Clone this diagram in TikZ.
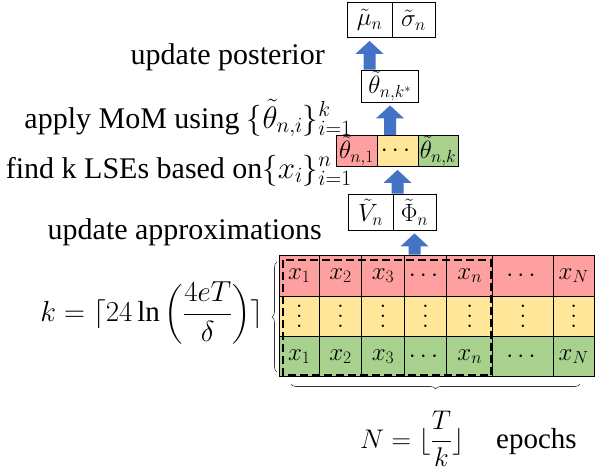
\RequirePackage{fix-cm}
\documentclass[tikz,border=0pt]{standalone}
\usepackage{amsmath}
\usepackage{fontspec}
\setmainfont{Liberation Serif}
\usetikzlibrary{calc,decorations.pathreplacing}
\definecolor{redc}{HTML}{FFA0A0}
\definecolor{yelc}{HTML}{FFE699}
\definecolor{grnc}{HTML}{A9D18E}
\definecolor{arrowblue}{HTML}{4472C4}
\tikzset{
  cellbox/.style={draw=black, line width=0.8pt, inner sep=0pt, font=\fontsize{25}{30}\selectfont},
  lbl/.style={inner sep=0pt, anchor=base east, font=\fontsize{30}{36}\selectfont},
  brc/.style={decorate, decoration={brace, amplitude=5pt}, line width=0.6pt, draw=black!80},
}
\newcommand{\lblmath}[1]{{\fontsize{31}{36}\selectfont$#1$}}
\newcommand{\tallvdots}{\vbox{\baselineskip=10pt\lineskiplimit=0pt\hbox{$.$}\hbox{$.$}\hbox{$.$}}}
\newcommand{\blockarrow}[2]{% from node #1 (below) up to node #2 (above)
  \fill[arrowblue] let \p1=(#1.north), \p2=(#2.south) in
    (\x2-6,\y1) -- (\x2+6,\y1) -- (\x2+6,\y2-16) -- (\x2+14,\y2-16) -- (\x2,\y2-3)
    -- (\x2-14,\y2-16) -- (\x2-6,\y2-16) -- cycle;}
\begin{document}
\begin{tikzpicture}[x=1pt,y=1pt]
\useasboundingbox (0,0) rectangle (597,-471);
% top box
\node[cellbox, minimum width=45, minimum height=35] (mu) at (369.5,-20) {$\tilde\mu_n$};
\node[cellbox, minimum width=43, minimum height=35] (sigma) at (413.5,-20) {$\tilde\sigma_n$};
% theta k* box
\node[cellbox, minimum width=57, minimum height=32] (thk) at (390,-86) {$\tilde\theta_{n,k^*}$};
% row of k
\node[cellbox, fill=redc, minimum width=41, minimum height=31] (th1) at (356.5,-151) {$\tilde\theta_{n,1}$};
\node[cellbox, fill=yelc, minimum width=41, minimum height=31] (thd) at (397.5,-151) {$\cdots$};
\node[cellbox, fill=grnc, minimum width=40, minimum height=31] (thk2) at (438,-151) {$\tilde\theta_{n,k}$};
% V Phi box
\node[cellbox, minimum width=45, minimum height=36] (vn) at (370.5,-212) {$\tilde V_n$};
\node[cellbox, minimum width=43, minimum height=36] (phin) at (414.5,-212) {$\tilde\Phi_n$};
% grid
\foreach \r/\ya/\yb/\fc in {1/255/296/redc,2/296/336.7/yelc,3/336.7/376.7/grnc}{
  \foreach \c/\xa/\xb/\txt in {1/279.3/319.3/x_1,2/319.3/361.7/x_2,3/361.7/404.3/x_3,4/404.3/446.7/\cdots,5/446.7/492.7/x_n,6/492.7/553.3/\cdots,7/553.3/594/x_N}{
    \ifnum\r=2
      \node[cellbox, fill=\fc, minimum width=\xb-\xa, minimum height=\yb-\ya] (g-\r-\c) at ({(\xa+\xb)/2},{-(\ya+\yb)/2}) {\tallvdots};
    \else
      \node[cellbox, fill=\fc, minimum width=\xb-\xa, minimum height=\yb-\ya] (g-\r-\c) at ({(\xa+\xb)/2},{-(\ya+\yb)/2}) {$\txt$};
    \fi
  }
}
% dashed window
\draw[line width=2.6pt, dash pattern=on 8pt off 4pt] (283,-260) rectangle (491.5,-375);
% arrows
\blockarrow{thk}{mu}
\blockarrow{th1}{thk}
\blockarrow{vn}{thd}
\blockarrow{g-1-3}{phin}
% braces
\draw[brc] (277,-372) -- (277,-262);
\draw[brc] (580,-384) -- (291,-384);
% labels
\node[lbl] (l1) at (325,-64) {update posterior};
\node[lbl] (l2) at (352,-128) {apply MoM using \lblmath{\{\tilde\theta_{n,i}\}_{i=1}^k}};
\node[lbl] (l3) at (352,-178) {find k LSEs based on\lblmath{\{x_i\}_{i=1}^n}};
\node[lbl] (l4) at (322,-239) {update approximations};
\node[inner sep=0pt, font=\fontsize{29}{36}\selectfont] (kf) at (152,-313) {$k=\lceil 24\ln\left(\dfrac{4eT}{\delta}\right)\rceil$};
\node[inner sep=0pt, anchor=base west, font=\fontsize{29}{34}\selectfont] (nf) at (360,-448) {{\fontsize{27}{34}\selectfont$N=\lfloor\dfrac{T}{k}\rfloor$}\hspace{32pt}epochs};
\end{tikzpicture}
\end{document}
